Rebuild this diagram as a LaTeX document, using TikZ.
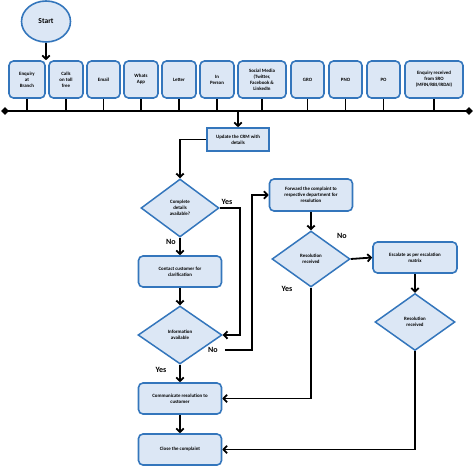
\documentclass[tikz,border=0pt]{standalone}
\usepackage{fontspec}
\setmainfont{Carlito}
\usetikzlibrary{shapes.geometric,arrows.meta}
\definecolor{bordc}{RGB}{52,118,188}
\definecolor{fillc}{RGB}{220,231,245}
\begin{document}
\begin{tikzpicture}[x=1pt,y=-1pt,
  txt/.style={font=\bfseries\fontsize{4.9}{6}\selectfont, align=center},
  box/.style={txt, draw=bordc, fill=fillc, line width=1.6pt, rounded corners=4.5pt, inner sep=1pt},
  sq/.style={txt, draw=bordc, fill=fillc, line width=1.6pt, inner sep=1pt},
  dia/.style={txt, draw=bordc, fill=fillc, line width=1.5pt, shape=diamond, inner sep=0pt},
  conn/.style={line width=1.8pt, black},
  arr/.style={conn, -{Straight Barb[length=3.5pt,width=7.5pt]}},
  lbl/.style={font=\bfseries\fontsize{8}{9}\selectfont, inner sep=1pt},
  endmark/.style={shape=diamond, fill=black, inner sep=0pt, minimum width=8pt, minimum height=8pt}]
\useasboundingbox (0,0) rectangle (474,466);

% start
\node[draw=bordc, fill=fillc, line width=1.6pt, shape=ellipse, minimum width=49pt, minimum height=41pt,
      font=\bfseries\fontsize{7.5}{9}\selectfont] (start) at (46,21.5) {Start};

% source boxes
\node[box, minimum width=36pt, minimum height=37pt] (b1) at (27,79.5) {Enquiry\\at\\Branch};
\node[box, minimum width=34pt, minimum height=37pt] (b2) at (66,79.5) {Calls\\on toll\\free};
\node[box, minimum width=33pt, minimum height=37pt] (b3) at (103.5,79.5) {Email};
\node[box, minimum width=34pt, minimum height=37pt] (b4) at (141,79.5) {Whats\\App};
\node[box, minimum width=34pt, minimum height=37pt] (b5) at (179,79.5) {Letter};
\node[box, minimum width=34pt, minimum height=37pt] (b6) at (217,79.5) {In\\Person};
\node[box, minimum width=48pt, minimum height=37pt] (b7) at (262,79.5) {Social Media\\(Twitter,\\Facebook \&\\LinkedIn};
\node[box, minimum width=33pt, minimum height=37pt] (b8) at (307.5,79.5) {GRO};
\node[box, minimum width=33pt, minimum height=37pt] (b9) at (345.5,79.5) {PNO};
\node[box, minimum width=33pt, minimum height=37pt] (b10) at (383.5,79.5) {PO};
\node[box, minimum width=58pt, minimum height=37pt] (b11) at (434,79.5) {Enquiry received\\from SRO\\(MFIN/RBI/IRDAI)};

% collecting line
\node[endmark] (lm) at (5,111) {};
\node[endmark] (rm) at (469,111) {};
\draw[conn] (lm.center) -- (rm.center);
\foreach \b in {b1,b2,b3,b4,b5,b6,b7,b8,b9,b10,b11}
  \draw[conn] (\b.south) -- (\b.south |- lm.center);

\draw[arr] (start.south) -- (start.south |- b1.north);

% process
\node[sq, minimum width=62pt, minimum height=23pt] (crm) at (238,139.5) {Update the CRM with\\details};
\node[dia, minimum width=78pt, minimum height=58pt] (d1) at (180,208) {Complete\\details\\available?};
\node[box, minimum width=83pt, minimum height=31pt] (contact) at (180,271.5) {Contact customer for\\clarification};
\node[dia, minimum width=84pt, minimum height=58pt] (d2) at (180,335) {Information\\available};
\node[box, minimum width=83pt, minimum height=31pt] (comm) at (180,398.5) {Communicate resolution to\\customer};
\node[box, minimum width=83pt, minimum height=31pt] (close) at (180,449.5) {Close the complaint};
\node[box, minimum width=83pt, minimum height=32pt] (fwd) at (311,195) {Forward the complaint to\\respective department for\\resolution};
\node[dia, minimum width=78pt, minimum height=56pt] (d3) at (311,259) {Resolution\\received};
\node[box, minimum width=84pt, minimum height=31pt] (esc) at (415,257.5) {Escalate as per escalation\\matrix};
\node[dia, minimum width=80pt, minimum height=57pt] (d4) at (415,322) {Resolution\\received};

% labels
\node[lbl] (yes1) at (227,202) {Yes};
\node[lbl] (no1) at (171,242) {No};
\node[lbl] (no2) at (213,350) {No};
\node[lbl] (yes2) at (161,370) {Yes};
\node[lbl] (no3) at (342,236) {No};
\node[lbl] (yes3) at (287,289) {Yes};

\coordinate (j1) at (240,0);
\coordinate (j2) at (252,0);

% connectors
\draw[arr] (crm.north |- lm.center) -- (crm.north);
\draw[arr] (crm.west) -| (d1.north);
\draw[arr] (d1.east) -- (d1.east -| j1) -- (j1 |- d2.east) -- (d2.east);
\draw[arr] (d1.south) -- (contact.north);
\draw[arr] (contact.south) -- (d2.north);
\draw[arr] ([xshift=6pt]no2.east) -- (no2.east -| j2) |- (fwd.west);
\draw[arr] (d2.south) -- (comm.north);
\draw[arr] (comm.south) -- (close.north);
\draw[arr] (fwd.south) -- (d3.north);
\draw[arr] (d3.east) -- (esc.west);
\draw[arr] (esc.south) -- (d4.north);
\draw[arr] (d3.south) |- (comm.east);
\draw[arr] (d4.south) |- (close.east);
\end{tikzpicture}
\end{document}
